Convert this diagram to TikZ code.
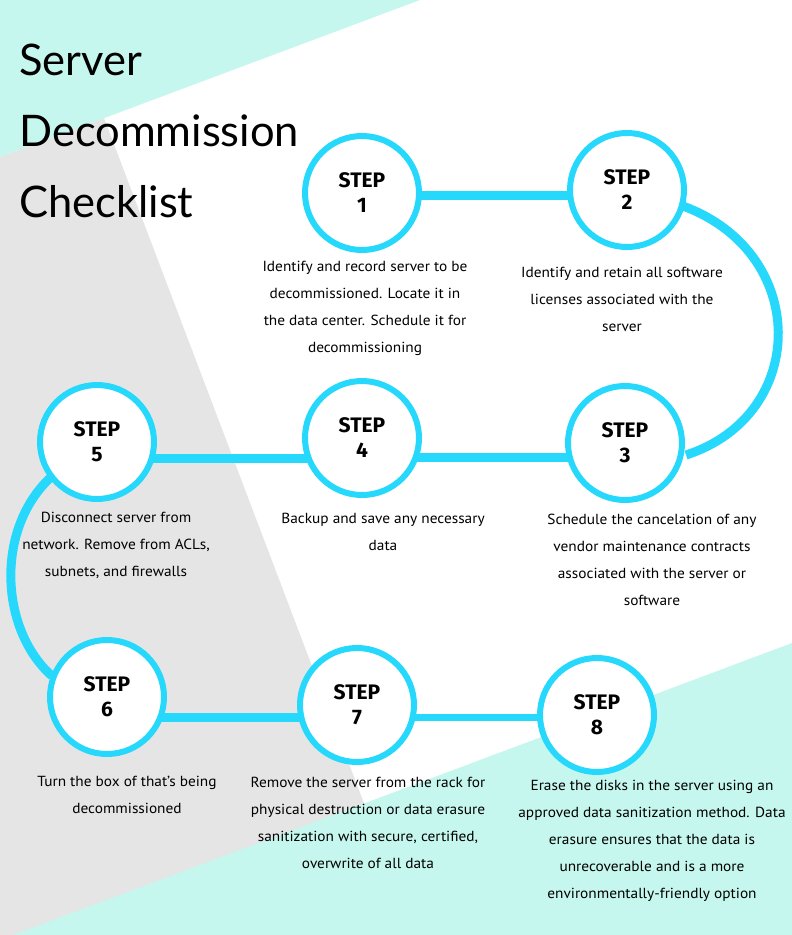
\documentclass[tikz,border=0pt]{standalone}
\usepackage{fontspec}
\setmainfont{PT Sans}
\newfontfamily\titlefont{Lato}
\newfontfamily\stepfont{Fira Sans}
\definecolor{mint}{HTML}{C6F7EE}
\definecolor{greyb}{HTML}{E5E5E5}
\definecolor{cyanl}{HTML}{26D9FC}
\tikzset{
  stepc/.style={circle,draw=cyanl,line width=6pt,fill=white,minimum size=114pt,inner sep=0pt,align=center,font=\stepfont\bfseries\fontsize{21}{25}\selectfont},
  link/.style={draw=cyanl,line width=9pt},
  desc/.style={align=center,font=\fontsize{14.6}{27}\selectfont\addfontfeature{FakeStretch=1.05},inner sep=0pt,anchor=north}
}
\begin{document}
\begin{tikzpicture}[x=1pt,y=-1pt]
\useasboundingbox (0,0) rectangle (792,935);
\fill[white] (0,0) rectangle (792,935);
\fill[greyb] (0,157) -- (104,118) -- (414,935) -- (0,935) -- cycle;
\fill[mint] (0,0) -- (420,0) -- (0,157) -- cycle;
\fill[mint] (792,643) -- (792,935) -- (0,940) -- cycle;
\node[anchor=base west,inner sep=0pt,font=\titlefont\fontsize{43.5}{70}\selectfont] (t1) at (19,75) {Server};
\node[anchor=base west,inner sep=0pt,font=\titlefont\fontsize{43.5}{70}\selectfont] (t2) at (19,146) {Decommission};
\node[anchor=base west,inner sep=0pt,font=\titlefont\fontsize{43.5}{70}\selectfont] (t3) at (19,217) {Checklist};
\coordinate (a1) at (680,205);
\coordinate (a2) at (686,455);
\coordinate (b1) at (50,478);
\coordinate (b2) at (52,676);
\draw[link] (362,195) -- (627,195);
\draw[link] (a1) .. controls (810,250) and (810,415) .. (a2);
\draw[link] (625,457) -- (362,457);
\draw[link] (362,458) -- (97,458);
\draw[link] (b1) .. controls (-5,530) and (0,630) .. (b2);
\draw[link] (108,717) -- (357,717);
\draw[draw=cyanl,line width=7pt] (357,717) -- (597,717);
\node[stepc] (s1) at (362,193) {STEP\\1};
\node[stepc] (s2) at (627,190) {STEP\\2};
\node[stepc] (s3) at (625,443) {STEP\\3};
\node[stepc] (s4) at (362,438) {STEP\\4};
\node[stepc] (s5) at (97,442) {STEP\\5};
\node[stepc] (s6) at (107,697) {STEP\\6};
\node[stepc] (s7) at (357,705) {STEP\\7};
\node[stepc] (s8) at (597,715) {STEP\\8};
\node[desc] (d1) at (365,261) {Identify and record server to be\\decommissioned. Locate it in\\the data center. Schedule it for\\decommissioning};
\node[desc] (d2) at (622,267) {Identify and retain all software\\licenses associated with the\\server};
\node[desc] (d3) at (652,514) {Schedule the cancelation of any\\vendor maintenance contracts\\associated with the server or\\software};
\node[desc] (d4) at (383,513) {Backup and save any necessary\\data};
\node[desc] (d5) at (116,512) {Disconnect server from\\network. Remove from ACLs,\\subnets, and firewalls};
\node[desc] (d6) at (127,776) {Turn the box of that's being\\decommissioned};
\node[desc] (d7) at (368,777) {Remove the server from the rack for\\physical destruction or data erasure\\sanitization with secure, certified,\\overwrite of all data};
\node[desc] (d8) at (652,780) {Erase the disks in the server using an\\approved data sanitization method. Data\\erasure ensures that the data is\\unrecoverable and is a more\\environmentally-friendly option};
\end{tikzpicture}
\end{document}
